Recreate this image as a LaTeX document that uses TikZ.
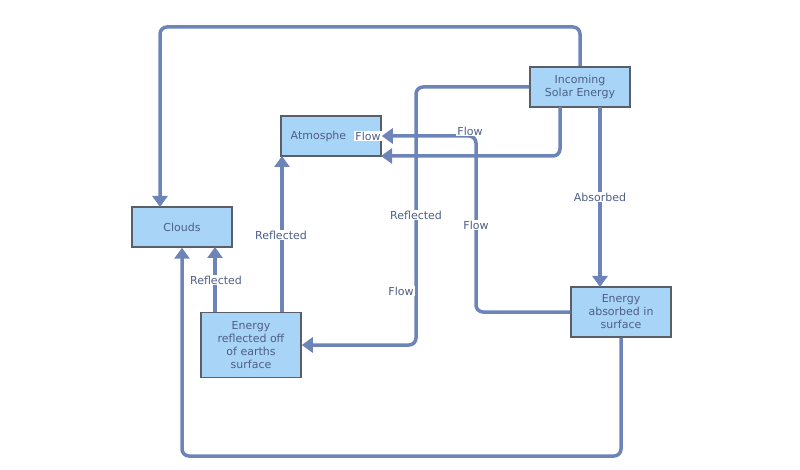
\documentclass[tikz,border=0pt]{standalone}
\usepackage{fontspec}
\setmainfont{DejaVu Sans}
\usepackage{xcolor}
\definecolor{flowline}{HTML}{6C84B8}
\definecolor{boxfill}{HTML}{A8D4F7}
\definecolor{boxline}{HTML}{5A5E66}
\definecolor{labeltext}{HTML}{4E5F85}
\usetikzlibrary{arrows.meta}
\begin{document}
\begin{tikzpicture}[x=1pt,y=-1pt,every node/.style={font=\fontsize{11}{13}\selectfont,text=labeltext},
        box/.style={draw=boxline,line width=1.5pt,fill=boxfill,minimum width=100pt,minimum height=40pt,align=center,inner sep=1pt},
        flow/.style={line width=3.5pt, draw=flowline, rounded corners=7pt, -{Triangle[length=11pt,width=15pt]}},
        lbl/.style={fill=white,inner sep=1pt}]
    \useasboundingbox (0,0) rectangle (800,470);
    \node[box] (sun) at (580,87) {Incoming\\Solar Energy};
    \node[box] (atm) at (331,136) {Atmosphe\phantom{Flow}};
    \node[box] (cld) at (182,227) {Clouds};
    \node[box,minimum height=65pt] (ref) at (251,345) {Energy\\reflected off\\of earths\\surface};
    \node[box,minimum height=50pt] (abs) at (621,312) {Energy\\absorbed in\\surface};
    % connectors
    \draw[flow] (sun.north) -- (580,27) -- (160,27) -- (160,207);
    \draw[flow] (sun.west) -- (416,87) -- (416,345) -- (ref.east);
    \draw[flow] (560,107) -- (560,156) -- (381,156);
    \draw[flow] (600,107) -- (600,287);
    \draw[flow] (abs.west) -- (476,312) -- (476,136) -- (atm.east);
    \draw[flow] (abs.south) -- (621,456) -- (182,456) -- (cld.south);
    \draw[flow] (282,312) -- (282,156);
    \draw[flow] (215,312) -- (215,247);
    % labels
    \node[lbl] at (416,215) {Reflected};
    \node[lbl] at (401,291) {Flow};
    \node[lbl] at (600,197) {Absorbed};
    \node[lbl] at (470,131) {Flow};
    \node[lbl] at (476,225) {Flow};
    \node[lbl] at (368,136) {Flow};
    \node[lbl] at (281,235) {Reflected};
    \node[lbl] at (216,280) {Reflected};
\end{tikzpicture}
\end{document}
